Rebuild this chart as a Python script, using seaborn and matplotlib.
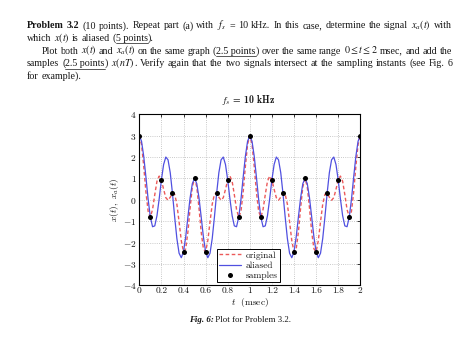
import numpy as np
import matplotlib
matplotlib.use("Agg")
import matplotlib.pyplot as plt
from matplotlib.lines import Line2D
import seaborn as sns

# ---------------------------------------------------------------- data
# time grid in msec for the continuous curves
t_fine = np.round(np.arange(0, 2.0001, 0.02), 2)

# original signal x(t)
x_original = [
    3.00, 2.60, 1.57, 0.36, -0.54, -0.81, -0.45, 0.24, 0.87, 1.11,
    0.93, 0.49, 0.10, -0.02, 0.12, 0.31, 0.26, -0.20, -1.03, -1.91,
    -2.43, -2.29, -1.50, -0.37, 0.61, 1.00, 0.61, -0.37, -1.50, -2.29,
    -2.43, -1.91, -1.03, -0.20, 0.26, 0.31, 0.12, -0.02, 0.10, 0.49,
    0.93, 1.11, 0.87, 0.24, -0.45, -0.81, -0.54, 0.36, 1.57, 2.60,
    3.00, 2.60, 1.57, 0.36, -0.54, -0.81, -0.45, 0.24, 0.87, 1.11,
    0.93, 0.49, 0.10, -0.02, 0.12, 0.31, 0.26, -0.20, -1.03, -1.91,
    -2.43, -2.29, -1.50, -0.37, 0.61, 1.00, 0.61, -0.37, -1.50, -2.29,
    -2.43, -1.91, -1.03, -0.20, 0.26, 0.31, 0.12, -0.02, 0.10, 0.49,
    0.93, 1.11, 0.87, 0.24, -0.45, -0.81, -0.54, 0.36, 1.57, 2.60,
    3.00,
]

# aliased signal x_a(t)
x_aliased = [
    3.00, 2.74, 2.04, 1.06, 0.02, -0.81, -1.26, -1.22, -0.74, 0.05,
    0.93, 1.65, 2.00, 1.87, 1.27, 0.31, -0.80, -1.81, -2.50, -2.71,
    -2.43, -1.73, -0.80, 0.10, 0.76, 1.00, 0.76, 0.10, -0.80, -1.73,
    -2.43, -2.71, -2.50, -1.81, -0.80, 0.31, 1.27, 1.87, 2.00, 1.65,
    0.93, 0.05, -0.74, -1.22, -1.26, -0.81, 0.02, 1.06, 2.04, 2.74,
    3.00, 2.74, 2.04, 1.06, 0.02, -0.81, -1.26, -1.22, -0.74, 0.05,
    0.93, 1.65, 2.00, 1.87, 1.27, 0.31, -0.80, -1.81, -2.50, -2.71,
    -2.43, -1.73, -0.80, 0.10, 0.76, 1.00, 0.76, 0.10, -0.80, -1.73,
    -2.43, -2.71, -2.50, -1.81, -0.80, 0.31, 1.27, 1.87, 2.00, 1.65,
    0.93, 0.05, -0.74, -1.22, -1.26, -0.81, 0.02, 1.06, 2.04, 2.74,
    3.00,
]

# samples x(nT), T = 0.1 msec
t_samples = [0.0, 0.1, 0.2, 0.3, 0.4, 0.5, 0.6, 0.7, 0.8, 0.9, 1.0,
             1.1, 1.2, 1.3, 1.4, 1.5, 1.6, 1.7, 1.8, 1.9, 2.0]
x_samples = [3.00, -0.81, 0.93, 0.31, -2.43, 1.00, -2.43, 0.31, 0.93, -0.81, 3.00,
             -0.81, 0.93, 0.31, -2.43, 1.00, -2.43, 0.31, 0.93, -0.81, 3.00]

series_labels = ["original", "aliased", "samples"]
x_ticks = [0, 0.2, 0.4, 0.6, 0.8, 1.0, 1.2, 1.4, 1.6, 1.8, 2.0]
x_tick_labels = ["0", "0.2", "0.4", "0.6", "0.8", "1", "1.2", "1.4", "1.6", "1.8", "2"]
y_ticks = [-4, -3, -2, -1, 0, 1, 2, 3, 4]
y_tick_labels = ["$-4$", "$-3$", "$-2$", "$-1$", "$0$", "$1$", "$2$", "$3$", "$4$"]

# ---------------------------------------------------------------- style
sns.set_style("white")
plt.rcParams["font.family"] = ["cmr10"]
plt.rcParams["mathtext.fontset"] = "cm"
plt.rcParams["axes.formatter.use_mathtext"] = True
plt.rcParams["axes.unicode_minus"] = False

RED = "#ec5a5a"
BLUE = "#5050e0"
INK = "#161616"

W, H = 474, 338
fig = plt.figure(figsize=(W / 100, H / 100), dpi=100)
fig.patch.set_facecolor("white")
renderer = fig.canvas.get_renderer()

# ---------------------------------------------------------------- plot
ax = fig.add_axes([139.3 / W, 1 - 285.3 / H, 221.0 / W, 171.0 / H])

sns.lineplot(x=t_fine, y=x_original, ax=ax, color=RED, linewidth=1.0,
             label=series_labels[0], sort=False, zorder=2)
sns.lineplot(x=t_fine, y=x_aliased, ax=ax, color=BLUE, linewidth=0.9,
             label=series_labels[1], sort=False, zorder=3)
ax.lines[0].set_dashes([2.6, 1.8])
sns.scatterplot(x=t_samples, y=x_samples, ax=ax, color="black", s=13,
                linewidth=0, label=series_labels[2], zorder=5)

ax.set_xlim(0, 2)
ax.set_ylim(-4, 4)
ax.set_xticks(x_ticks)
ax.set_xticklabels(x_tick_labels)
ax.set_yticks(y_ticks)
ax.set_yticklabels(y_tick_labels)
ax.grid(True, linestyle=(0, (1, 1.6)), color="#b8b8b8", linewidth=0.6)
ax.tick_params(direction="in", length=2.5, width=0.6, top=True, right=True,
               labelsize=6.8, pad=2, colors=INK)
ax.tick_params(axis="x", pad=1.2)
for sp in ax.spines.values():
    sp.set_color("black")
    sp.set_linewidth(0.8)

ax.set_xlabel("$t$  (msec)", fontsize=6.8, color=INK)
ax.xaxis.set_label_coords(0.5, -0.06)
ax.set_ylabel(r"$x(t),\ x_a(t)$", fontsize=6.8, color=INK)
ax.yaxis.set_label_coords(-0.082, 0.5)

leg = ax.legend(loc="lower center", bbox_to_anchor=(0.494, 0.018),
                borderaxespad=0, fontsize=6.8, frameon=True, fancybox=False,
                edgecolor="black", framealpha=1, borderpad=0.25,
                handlelength=2.3, handletextpad=0.5, labelspacing=0.15)
leg.get_frame().set_linewidth(0.7)
for txt in leg.get_texts():
    txt.set_color(INK)

fig.text(248 / W, 1 - 100 / H, "$f_s$ = 10 kHz", family="cmb10",
         fontsize=7, ha="center", va="center", color=INK)

# ---------------------------------------------------------------- page text
SERIF = "Liberation Serif"
FS = 7.2


def put(x, y, s, style="n", size=FS):
    kw = dict(family=SERIF, fontsize=size, color=INK, va="baseline", ha="left",
              math_fontfamily="stix")
    if style == "b":
        kw["fontweight"] = "bold"
    if style == "bi":
        kw["fontweight"] = "bold"
        kw["fontstyle"] = "italic"
    t = fig.text(x / W, 1 - y / H, s, **kw)
    bb = t.get_window_extent(renderer)
    if style == "u":
        fig.add_artist(Line2D([x / W, (x + bb.width) / W],
                              [1 - (y + 2.4) / H, 1 - (y + 2.4) / H],
                              color=INK, linewidth=0.5))
    return bb.width


def measure(s, style="n", size=FS):
    kw = dict(family=SERIF, fontsize=size, math_fontfamily="stix")
    if style == "b":
        kw["fontweight"] = "bold"
    if style == "bi":
        kw["fontweight"] = "bold"
        kw["fontstyle"] = "italic"
    t = fig.text(0, 0, s, **kw)
    w = t.get_window_extent(renderer).width
    t.remove()
    return w


def draw_line(tokens, x0, y, x1=None):
    # tokens: (text, style, glued-to-previous)
    widths = [measure(s, st) for s, st, _ in tokens]
    n_gaps = sum(1 for i, tk in enumerate(tokens) if i > 0 and not tk[2])
    natural = measure("a a") - measure("aa")
    gap = natural
    if x1 is not None and n_gaps:
        gap = (x1 - x0 - sum(widths)) / n_gaps
    x = x0
    for i, (s, st, glued) in enumerate(tokens):
        if i > 0 and not glued:
            x += gap
        put(x, y, s, st)
        x += widths[i]


def words(text, style="n"):
    return [(w, style, False) for w in text.split()]


L, R = 27, 452
base = 28.3
step = 12.6

line1 = ([("Problem", "b", False), ("3.2", "b", False)]
         + words("(10 points). Repeat part (a) with")
         + [("$f_s$", "n", False), ("=", "n", False)]
         + words("10 kHz. In this case, determine the signal")
         + [("$x_a(t)$", "n", False), ("with", "n", False)])
line2 = (words("which") + [("$x(t)$", "n", False)] + words("is aliased")
         + [("(", "n", False), ("5 points", "u", True), (").", "n", True)])
line3 = (words("Plot both") + [("$x(t)$", "n", False)] + words("and")
         + [("$x_a(t)$", "n", False)] + words("on the same graph")
         + [("(", "n", False), ("2.5 points", "u", True), (")", "n", True)]
         + words("over the same range")
         + [(r"$0 \leq t \leq 2$", "n", False)] + words("msec, and add the"))
line4 = (words("samples")
         + [("(", "n", False), ("2.5 points", "u", True), (")", "n", True)]
         + [("$x(nT)$", "n", False), (".", "n", True)]
         + words("Verify again that the two signals intersect at the sampling instants (see Fig. 6"))
line5 = words("for example).")

draw_line(line1, L, base, R)
draw_line(line2, L, base + step)
draw_line(line3, 41.7, base + 2 * step, R)
draw_line(line4, L, base + 3 * step, R)
draw_line(line5, L, base + 4 * step)

# caption
CAP = 6.4
cap_a = "Fig. 6:"
cap_b = " Plot for Problem 3.2."
wa = measure(cap_a, "bi", CAP)
wb = measure(cap_b, "n", CAP)
cx = 240 - (wa + wb) / 2
put(cx, 322.3, cap_a, "bi", size=CAP)
put(cx + wa, 322.3, cap_b, "n", size=CAP)

fig.savefig("out.png", dpi=100, facecolor="white")
